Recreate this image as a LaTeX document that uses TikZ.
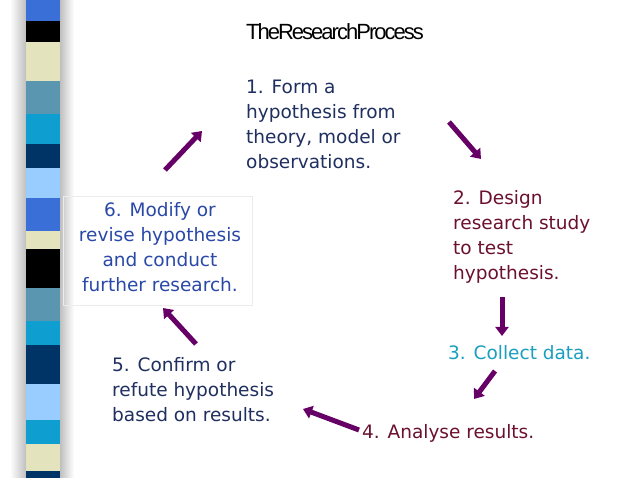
\documentclass[tikz,border=0pt]{standalone}
\usepackage{fontspec}
\setmainfont{DejaVu Sans}
\usetikzlibrary{arrows.meta}
\definecolor{sblue}{HTML}{3A6FD8}\definecolor{scream}{HTML}{E3E3BE}
\definecolor{steal}{HTML}{5B96B0}\definecolor{scyan}{HTML}{0E9FD0}
\definecolor{snavy}{HTML}{003366}\definecolor{slight}{HTML}{99CCFF}
\definecolor{tnavy}{HTML}{1F2F5F}\definecolor{tmar}{HTML}{6B1030}
\definecolor{tcyan}{HTML}{1A9FC0}\definecolor{tblue}{HTML}{2A48A8}
\definecolor{arr}{HTML}{660066}
\begin{document}
\begin{tikzpicture}[x=1pt,y=-1pt,
  txt/.style={font=\fontsize{18.5}{25}\selectfont,inner sep=0pt},
  arrw/.style={draw=arr,line width=5pt,-{Triangle[length=9pt,width=13pt]}}]
\useasboundingbox (0,0) rectangle (638,478);
\fill[white] (0,0) rectangle (638,478);
\shade[left color=white,right color=gray!50] (10,0) rectangle (26,478);
\shade[left color=gray!50,right color=white] (60,0) rectangle (74,478);
\foreach \a/\b/\c in {0/7/sblue,7/14/black,14/27/scream,27/38/steal,38/48/scyan,48/56/snavy,56/66/slight,66/77/sblue,77/83/scream,83/96/black,96/107/steal,107/115/scyan,115/128/snavy,128/140/slight,140/148/scyan,148/157/scream,157/160/snavy}
  \fill[\c] (26,\a*3) rectangle (60,\b*3);
\draw[gray!15] (63,196) rectangle (252,305);
\node[inner sep=0pt] (title) at (335,32) {\fontspec{Liberation Sans}\fontsize{22}{24}\selectfont\addfontfeature{LetterSpace=-9}\spaceskip=-2pt The Research Process};
\node[txt,text=tnavy,align=left,anchor=north west] (n1) at (246,80) {1. Form a\\hypothesis from\\theory, model or\\observations.};
\node[txt,text=tmar,align=left,anchor=north west] (n2) at (453,190) {2. Design\\research study\\to test\\hypothesis.};
\node[txt,text=tcyan,anchor=west] (n3) at (448,353) {3. Collect data.};
\node[txt,text=tmar,anchor=west] (n4) at (362,433) {4. Analyse results.};
\node[txt,text=tnavy,align=left,anchor=north west] (n5) at (112,357) {5. Confirm or\\refute hypothesis\\based on results.};
\node[txt,text=tblue,align=center,anchor=north] (n6) at (160,202) {6. Modify or\\revise hypothesis\\and conduct\\further research.};
\coordinate (a1s) at (449,122);\coordinate (a1e) at (481,159);
\coordinate (a2s) at (502,297);\coordinate (a2e) at (502,336);
\coordinate (a3s) at (495,371);\coordinate (a3e) at (474,399);
\coordinate (a4s) at (359,430);\coordinate (a4e) at (303,409);
\coordinate (a5s) at (196,344);\coordinate (a5e) at (163,308);
\coordinate (a6s) at (165,170);\coordinate (a6e) at (202,131);
\foreach \i in {1,...,6} \draw[arrw] (a\i s) -- (a\i e);
\end{tikzpicture}
\end{document}
